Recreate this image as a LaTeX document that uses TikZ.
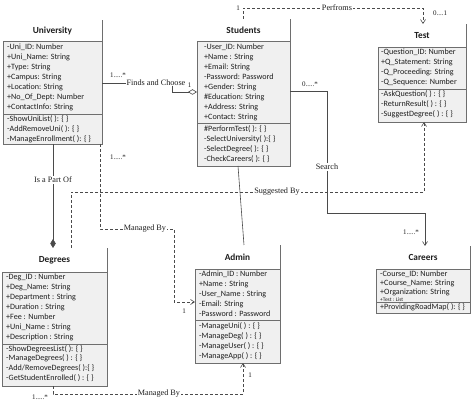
\documentclass[tikz,border=0pt]{standalone}
\usepackage{fontspec}
\setmainfont{Carlito}
\newfontfamily\lblfont{Liberation Serif}
\usetikzlibrary{arrows.meta}
\definecolor{boxgray}{HTML}{F0F0F0}
\definecolor{bordergray}{HTML}{6E6E6E}
\definecolor{linegray}{HTML}{4A4A4A}
\definecolor{txt}{HTML}{1E1E1E}
\begin{document}
\begin{tikzpicture}[x=1pt,y=-1pt,
  classbox/.style={draw=bordergray, fill=boxgray, line width=0.7pt, anchor=north west, inner sep=0pt, outer sep=0pt},
  titlefill/.style={fill=white},
  sepline/.style={draw=bordergray, line width=0.7pt},
  titletxt/.style={font=\fontsize{9.3}{10}\selectfont\bfseries, text=txt, inner sep=0pt, anchor=center},
  attrtxt/.style={font=\fontsize{8.1}{10}\selectfont, text=txt, align=left, anchor=north west, inner sep=0pt},
  conn/.style={draw=linegray, line width=0.6pt},
  dashedconn/.style={conn, dash pattern=on 3pt off 2pt},
  openarrow/.style={-{Straight Barb[length=4pt,width=5pt]}},
  lbl/.style={font=\lblfont\fontsize{8.2}{9}\selectfont, text=txt, fill=white, inner sep=1pt},
  mult/.style={font=\lblfont\fontsize{7}{8}\selectfont, text=txt, inner sep=0.5pt}
]
\useasboundingbox[fill=white] (0,0) rectangle (474,406);

% ---------- University ----------
\node[classbox, minimum width=99pt, minimum height=124pt] (univ) at (3,20) {};
\fill[titlefill] (3.4,20.4) rectangle (101.6,41);
\draw[sepline] (3,41) -- (102,41);
\draw[sepline] (3,114) -- (102,114);
\node[titletxt] (univt) at (52.5,31) {University};
\node[attrtxt] (univa) at (7,43.5) {-Uni\_ID: Number\\+Uni\_Name: String\\+Type: String\\+Campus: String\\+Location: String\\+No\_Of\_Dept: Number\\+ContactInfo: String};
\node[attrtxt] (univm) at (7,115.5) {-ShowUniList( ): \{ \}\\-AddRemoveUni( ): \{ \}\\-ManageEnrollment( ): \{ \}};

% ---------- Students ----------
\node[classbox, minimum width=93pt, minimum height=147pt] (stud) at (197,19) {};
\fill[titlefill] (197.4,19.4) rectangle (289.6,41);
\draw[sepline] (197,41) -- (290,41);
\draw[sepline] (197,123) -- (290,123);
\node[titletxt] (studt) at (243.5,30.5) {Students};
\node[attrtxt] (studa) at (204,43.5) {-User\_ID: Number\\+Name : String\\+Email: String\\-Password: Password\\+Gender: String\\\#Education: String\\+Address: String\\+Contact: String};
\node[attrtxt] (studm) at (204,125.5) {\#PerformTest( ): \{ \}\\-SelectUniversity( ):\{ \}\\-SelectDegree( ): \{ \}\\-CheckCareers( ): \{ \}};

% ---------- Test ----------
\node[classbox, minimum width=88pt, minimum height=98pt] (test) at (378,24) {};
\fill[titlefill] (378.4,24.4) rectangle (465.6,47);
\draw[sepline] (378,47) -- (466,47);
\draw[sepline] (378,89) -- (466,89);
\node[titletxt] (testt) at (422,35.5) {Test};
\node[attrtxt] (testa) at (381,48.5) {-Question\_ID: Number\\+Q\_Statement: String\\-Q\_Proceeding: String\\-Q\_Sequence: Number};
\node[attrtxt] (testm) at (381,90.5) {-AskQuestion( ) : \{ \}\\-ReturnResult( ) : \{ \}\\-SuggestDegree( ) : \{ \}};

% ---------- Degrees ----------
\node[classbox, minimum width=105pt, minimum height=138pt] (deg) at (2,248) {};
\fill[titlefill] (2.4,248.4) rectangle (106.6,272);
\draw[sepline] (2,272) -- (107,272);
\draw[sepline] (2,344) -- (107,344);
\node[titletxt] (degt) at (54.5,260) {Degrees};
\node[attrtxt] (dega) at (6,273.5) {-Deg\_ID : Number\\+Deg\_Name: String\\+Department : String\\+Duration : String\\+Fee : Number\\+Uni\_Name : String\\+Description : String};
\node[attrtxt, font=\fontsize{8.1}{9.7}\selectfont] (degm) at (6,345) {-ShowDegreesList( ): \{ \}\\-ManageDegrees( ) : \{ \}\\-Add/RemoveDegrees( ):\{ \}\\-GetStudentEnrolled( ) : \{ \}};

% ---------- Admin ----------
\node[classbox, minimum width=85pt, minimum height=118pt] (admin) at (195,245) {};
\fill[titlefill] (195.4,245.4) rectangle (279.6,269);
\draw[sepline] (195,269) -- (280,269);
\draw[sepline] (195,320) -- (280,320);
\node[titletxt] (admint) at (237.5,257) {Admin};
\node[attrtxt] (admina) at (199,270.5) {-Admin\_ID : Number\\+Name : String\\-User\_Name : String\\-Email: String\\-Password : Password};
\node[attrtxt] (adminm) at (199,322.5) {-ManageUni( ) : \{ \}\\-ManageDeg( ) : \{ \}\\-ManageUser( ) : \{ \}\\-ManageApp( ) : \{ \}};

% ---------- Careers ----------
\node[classbox, minimum width=94pt, minimum height=67pt] (car) at (376,246) {};
\fill[titlefill] (376.4,246.4) rectangle (469.6,269);
\draw[sepline] (376,269) -- (470,269);
\draw[sepline] (376,302) -- (470,302);
\node[titletxt] (cart) at (423,257.5) {Careers};
\node[attrtxt, font=\fontsize{8.1}{9}\selectfont] (cara) at (380,270.5) {-Course\_ID: Number\\+Course\_Name: String\\+Organization: String\\[-1.5pt]{\fontsize{5.4}{6}\selectfont +Test : List}};
\node[attrtxt] (carm) at (380,303.5) {+ProvidingRoadMap( ): \{ \}};

% ---------- Connectors ----------
% Finds and Choose
\draw[conn, {Diamond[open,length=9pt,width=5.5pt]}-] (stud.west |- 0,92) -- (172,92) -- (172,83) -- (univ.east |- 0,83);
\node[lbl] (lfind) at (156,82.5) {Finds and Choose};
\node[mult] (mfind1) at (118,75) {1.....*};
\node[mult] (mfind2) at (189.5,85) {1};

% Is a Part Of
\draw[conn, {Diamond[length=9pt,width=5.5pt]}-] (deg.north -| 53,0) -- (univ.south -| 53,0);
\node[lbl] (lpart) at (53,180) {Is a Part Of};

% University -- Admin : Managed By
\draw[dashedconn, openarrow] (univ.south -| 100,0) -- (100,229) -- (174,229) -- (174,302) -- (admin.west |- 0,302);
\node[lbl] (lman1) at (145,229) {Managed By};
\node[mult] (mman1a) at (118,157) {1.....*};
\node[mult] (mman1b) at (184,311) {1};

% Degrees -- Admin : Managed By
\draw[dashedconn, openarrow] (deg.south -| 53,0) -- (53,394) -- (243,394) -- (admin.south -| 243,0);
\node[lbl] (lman2) at (159,394) {Managed By};
\node[mult] (mman2a) at (40,397) {1.....*};
\node[mult] (mman2b) at (250,375) {1};

% Students -- Test : Perfroms
\draw[dashedconn, openarrow] (stud.north -| 243,0) -- (243,8) -- (423,8) -- (test.north -| 423,0);
\node[lbl] (lperf) at (337,8) {Perfroms};
\node[mult] (mperf1) at (238,8) {1};
\node[mult] (mperf2) at (440,13) {0....1};

% Students -- Admin
\draw[conn] (stud.south -| 238,0) -- (admin.north -| 244,0);

% Students -- Careers : Search
\draw[conn, openarrow] (stud.east |- 0,91) -- (327,91) -- (327,213) -- (425,213) -- (car.north -| 425,0);
\node[lbl] (lsearch) at (327,167) {Search};
\node[mult] (msearch1) at (310,84) {0.....*};
\node[mult] (msearch2) at (411,232) {1.....*};

% Test -- Degrees : Suggested By
\draw[dashedconn, {Straight Barb[length=4pt,width=5pt]}-] (test.south -| 424,0) -- (424,192) -- (71,192) -- (deg.north -| 71,0);
\node[lbl] (lsugg) at (277,192) {Suggested By};
\end{tikzpicture}
\end{document}
